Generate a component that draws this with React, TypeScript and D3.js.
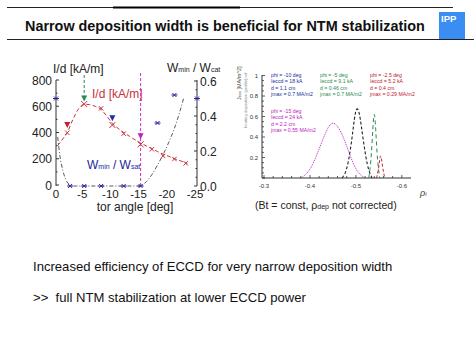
import React from "react";
import * as d3 from "d3";

// ---------- data: left chart ----------
const angleTicks = [0, -5, -10, -15, -20, -25];
const idTicks = [0, 200, 400, 600, 800];
const wTicks = [0, 0.2, 0.4, 0.6];
const idAngles = [-2, -5, -8, -10, -12, -15, -17, -19, -21, -23];
const idValues = [398, 617, 584, 457, 391, 310, 272, 221, 198, 165];
const idFitAngles = [-0.3, -1, -2, -3, -4, -5, -6, -7, -8, -9, -10, -11, -12, -13, -14, -15, -16, -17, -18, -19, -20, -21, -22, -23.3];
const idFitValues = [300, 340, 400, 500, 580, 615, 612, 598, 575, 525, 470, 432, 400, 372, 345, 320, 298, 278, 255, 235, 218, 200, 185, 165];
const wAngles = [0, -2.5, -5, -8, -12, -15, -18, -21, -25];
const wValues = [0.5, 0, 0, 0, 0, 0, 0.36, 0.52, 0.5];
const wFitAngles = [-0.3, -0.7, -1.2, -1.7, -2.3, -3, -15, -16, -17, -18, -19, -20, -21, -22, -22.7];
const wFitValues = [0.28, 0.17, 0.09, 0.04, 0.01, 0, 0, 0.025, 0.065, 0.12, 0.18, 0.25, 0.33, 0.43, 0.51];
const caseAngles = [-2, -5, -10, -15];
const caseIdValues = [457, 660, 508, 371];
const caseColors = ["#c8202c", "#2a8a50", "#2030a0", "#c020c0"];

// ---------- data: right chart ----------
const rhoTicks = [-0.3, -0.4, -0.5, -0.6];
const jTicks = [0.2, 0.4, 0.6, 0.8, 1];
const magRho = [-0.38, -0.40, -0.42, -0.435, -0.447, -0.46, -0.475, -0.49, -0.505, -0.52];
const magJ = [0, 0.06, 0.28, 0.46, 0.55, 0.52, 0.38, 0.18, 0.04, 0];
const blkRho = [-0.47, -0.48, -0.49, -0.497, -0.502, -0.508, -0.515, -0.525, -0.535];
const blkJ = [0, 0.06, 0.32, 0.6, 0.70, 0.64, 0.4, 0.1, 0];
const grnRho = [-0.528, -0.533, -0.537, -0.54, -0.543, -0.547, -0.552];
const grnJ = [0, 0.15, 0.5, 0.68, 0.5, 0.15, 0];
const redRho = [-0.545, -0.55, -0.554, -0.558, -0.563];
const redJ = [0, 0.1, 0.27, 0.1, 0];
const legendBlue = ["phi = -10 deg", "Ieccd = 18 kA", "d = 1.1 cm", "jmax = 0.7 MA/m2"];
const legendGreen = ["phi = -5 deg", "Ieccd = 9.1 kA", "d = 0.46 cm", "jmax = 0.7 MA/m2"];
const legendRed = ["phi = -2.5 deg", "Ieccd = 5.2 kA", "d = 0.4 cm", "jmax = 0.29 MA/m2"];
const legendMag = ["phi = -15 deg", "Ieccd = 24 kA", "d = 2.2 cm", "jmax = 0.55 MA/m2"];

const FONT = "'Liberation Sans', Arial, Helvetica, sans-serif";
const RED = "#c8303c";
const NAVY = "#26269a";

function Cross({ x, y, r, color, bar }: { x: number; y: number; r: number; color: string; bar?: boolean }) {
  return (
    <g stroke={color} strokeWidth={1}>
      <line x1={x - r} y1={y - r} x2={x + r} y2={y + r} />
      <line x1={x - r} y1={y + r} x2={x + r} y2={y - r} />
      {bar && <line x1={x - r - 1} y1={y} x2={x + r + 1} y2={y} />}
    </g>
  );
}

export default function App() {
  // left chart scales
  const x = d3.scaleLinear().domain([0, -25]).range([56, 197]);
  const yI = d3.scaleLinear().domain([0, 800]).range([185, 80]);
  const yW = d3.scaleLinear().domain([0, 0.6]).range([186, 81]);

  const idLine = d3.line<number>().x((_, i) => x(idFitAngles[i])).y((d) => yI(d)).curve(d3.curveMonotoneX);
  const wLineLeft = d3.line<number>().x((_, i) => x(wFitAngles[i])).y((d) => yW(d)).curve(d3.curveMonotoneX);

  // right chart scales
  const xr = d3.scaleLinear().domain([-0.3, -0.62]).range([264, 411]);
  const yr = d3.scaleLinear().domain([0, 1]).range([178, 75.5]);
  const mk = (rs: number[], js: number[]) =>
    d3.line<number>().x((_, i) => xr(rs[i])).y((d) => yr(d)).curve(d3.curveBasis)(js) || "";

  const minorI = d3.range(0, 801, 100);
  const minorW = d3.range(0, 0.61, 0.05);
  const minorR = d3.range(-0.3, -0.62, -0.02);
  const minorJ = d3.range(0, 1.01, 0.05);

  const legend = (lines: string[], lx: number, ly: number, color: string) =>
    lines.map((t, i) => (
      <text key={t} x={lx} y={ly + i * 6.3} fontSize={5.2} fill={color} fontFamily={FONT}>
        {t}
      </text>
    ));

  return (
    <svg width={474} height={355} style={{ position: "absolute", left: 0, top: 0, background: "#fff" }}>
      <rect x={0} y={0} width={474} height={355} fill="#fff" />
      {/* header */}
      <line x1={7} y1={7.5} x2={453} y2={7.5} stroke="#222" strokeWidth={1} />
      <line x1={113} y1={7.5} x2={240} y2={7.5} stroke="#000" strokeWidth={2.2} />
      <line x1={7} y1={39.5} x2={474} y2={39.5} stroke="#222" strokeWidth={1.2} />
      <text x={25} y={31} fontSize={14.4} fontWeight="bold" fontFamily={FONT} fill="#111">
        Narrow deposition width is beneficial for NTM stabilization
      </text>
      <rect x={439} y={12} width={26} height={27} fill="#3a8ef2" />
      <text x={441} y={22} fontSize={9.5} fontWeight="bold" fill="#fff" fontFamily={FONT}>
        IPP
      </text>

      {/* ---------- left chart ---------- */}
      <g fontFamily={FONT}>
        <line x1={56} y1={80} x2={56} y2={186} stroke="#333" strokeWidth={1} />
        <line x1={197} y1={80} x2={197} y2={186} stroke="#333" strokeWidth={1} />
        {minorI.map((v) => (
          <line key={"mi" + v} x1={56} x2={v % 200 === 0 ? 59 : 57.5} y1={yI(v)} y2={yI(v)} stroke="#333" />
        ))}
        {minorW.map((v, i) => (
          <line key={"mw" + i} x1={197} x2={i % 4 === 0 ? 194 : 195.5} y1={yW(v)} y2={yW(v)} stroke="#333" />
        ))}
        {idTicks.map((v) => (
          <text key={"it" + v} x={52} y={yI(v) + 4.5} fontSize={12} textAnchor="end" fill="#222">
            {v}
          </text>
        ))}
        {wTicks.map((v) => (
          <text key={"wt" + v} x={200} y={yW(v) + 5} fontSize={12} fill="#222">
            {v.toFixed(1)}
          </text>
        ))}
        {angleTicks.map((v) => (
          <text key={"at" + v} x={x(v) - (v === 0 ? 0 : 2)} y={198} fontSize={11.5} textAnchor="middle" fill="#222">
            {v === 0 ? "0" : String(v)}
          </text>
        ))}
        <text x={135} y={211} fontSize={12} textAnchor="middle" fill="#222">
          tor angle [deg]
        </text>
        <text x={53} y={73} fontSize={12} fill="#222">
          I/d [kA/m]
        </text>
        <text x={167} y={72} fontSize={12} fill="#222">
          W<tspan fontSize={7}>min</tspan> / W<tspan fontSize={7}>cat</tspan>
        </text>
        <text x={92} y={98} fontSize={12} fill={RED}>
          I/d [kA/m]
        </text>
        <text x={87} y={169} fontSize={12} fill={NAVY}>
          W<tspan fontSize={7}>min</tspan> / W<tspan fontSize={7}>sat</tspan>
        </text>

        {/* fits */}
        <path d={idLine(idFitValues) || ""} fill="none" stroke={RED} strokeWidth={1} strokeDasharray="4,2.5" />
        <path d={wLineLeft(wFitValues) || ""} fill="none" stroke="#444" strokeWidth={0.9} strokeDasharray="4,2,1,2" />

        {/* vertical case markers */}
        <line x1={x(-5)} x2={x(-5)} y1={75} y2={yI(caseIdValues[1]) - 3} stroke="#2a8a50" strokeDasharray="3,2" />
        <line x1={x(-15)} x2={x(-15)} y1={73} y2={186} stroke="#d030c0" strokeDasharray="3,2" />

        {/* points */}
        {idAngles.map((a, i) => (
          <Cross key={"ip" + i} x={x(a)} y={yI(idValues[i])} r={[1, 3, 5].includes(i) ? 3 : 2.2} color={RED} />
        ))}
        {wAngles.map((a, i) => (
          <Cross key={"wp" + i} x={x(a)} y={yW(wValues[i])} r={2} color={NAVY} bar />
        ))}
        {caseAngles.map((a, i) => {
          const cx = x(a);
          const cy = yI(caseIdValues[i]);
          return (
            <path key={"tri" + i} d={`M${cx - 3},${cy - 3}L${cx + 3},${cy - 3}L${cx},${cy + 3}Z`} fill={caseColors[i]} />
          );
        })}
      </g>

      {/* ---------- right chart ---------- */}
      <g fontFamily={FONT}>
        <line x1={262} y1={75} x2={262} y2={178} stroke="#333" strokeWidth={1} />
        <line x1={262} y1={178} x2={411} y2={178} stroke="#333" strokeWidth={1} />
        {minorJ.map((v, i) => (
          <line key={"mj" + i} x1={262} x2={i % 4 === 0 ? 265 : 264} y1={yr(v)} y2={yr(v)} stroke="#333" strokeWidth={0.8} />
        ))}
        {minorR.map((v, i) => (
          <line key={"mr" + i} y1={178} y2={i % 5 === 0 ? 175 : 176} x1={xr(v)} x2={xr(v)} stroke="#333" strokeWidth={0.8} />
        ))}
        {jTicks.map((v) => (
          <text key={"jt" + v} x={258} y={yr(v) + 2} fontSize={6} textAnchor="end" fill="#333">
            {v === 1 ? "1" : v.toFixed(1)}
          </text>
        ))}
        {rhoTicks.map((v) => (
          <text key={"rt" + v} x={xr(v)} y={188} fontSize={6} textAnchor="middle" fill="#333">
            {v.toFixed(1)}
          </text>
        ))}
        <text x={420} y={196} fontSize={9} fill="#333" fontStyle="italic">
          ρ<tspan fontSize={5}>t</tspan>
        </text>
        <text transform="translate(241,100) rotate(-90)" fontSize={5.5} fill="#444">
          J<tspan fontSize={4}>ecc</tspan> [MA/m^2]
        </text>
        <text transform="translate(247,128) rotate(-90)" fontSize={4.2} fill="#888">
          heating deposition (profile) ref
        </text>

        <path d={mk(magRho, magJ)} fill="none" stroke="#c030c8" strokeWidth={0.9} strokeDasharray="1.2,0.8" />
        <path d={mk(blkRho, blkJ)} fill="none" stroke="#222" strokeWidth={1.1} strokeDasharray="3,2" />
        <path d={mk(grnRho, grnJ)} fill="none" stroke="#2a8a50" strokeWidth={1} strokeDasharray="4,3" />
        <path d={mk(redRho, redJ)} fill="none" stroke="#c02030" strokeWidth={1} strokeDasharray="3,2" />

        {legend(legendBlue, 271, 77, "#2030a0")}
        {legend(legendGreen, 320, 77, "#2a8a50")}
        {legend(legendRed, 370, 77, "#c02030")}
        {legend(legendMag, 271, 113, "#c020c0")}

        <text x={255} y={209} fontSize={10.5} fill="#222">
          (Bt = const, ρ<tspan fontSize={7}>dep</tspan> not corrected)
        </text>
      </g>

      {/* bottom text */}
      <text x={33} y={271} fontSize={13.1} fontFamily={FONT} fill="#111">
        Increased efficiency of ECCD for very narrow deposition width
      </text>
      <text x={33} y={302} fontSize={13.1} fontFamily={FONT} fill="#111" xmlSpace="preserve">
        {">>  full NTM stabilization at lower ECCD power"}
      </text>
    </svg>
  );
}
